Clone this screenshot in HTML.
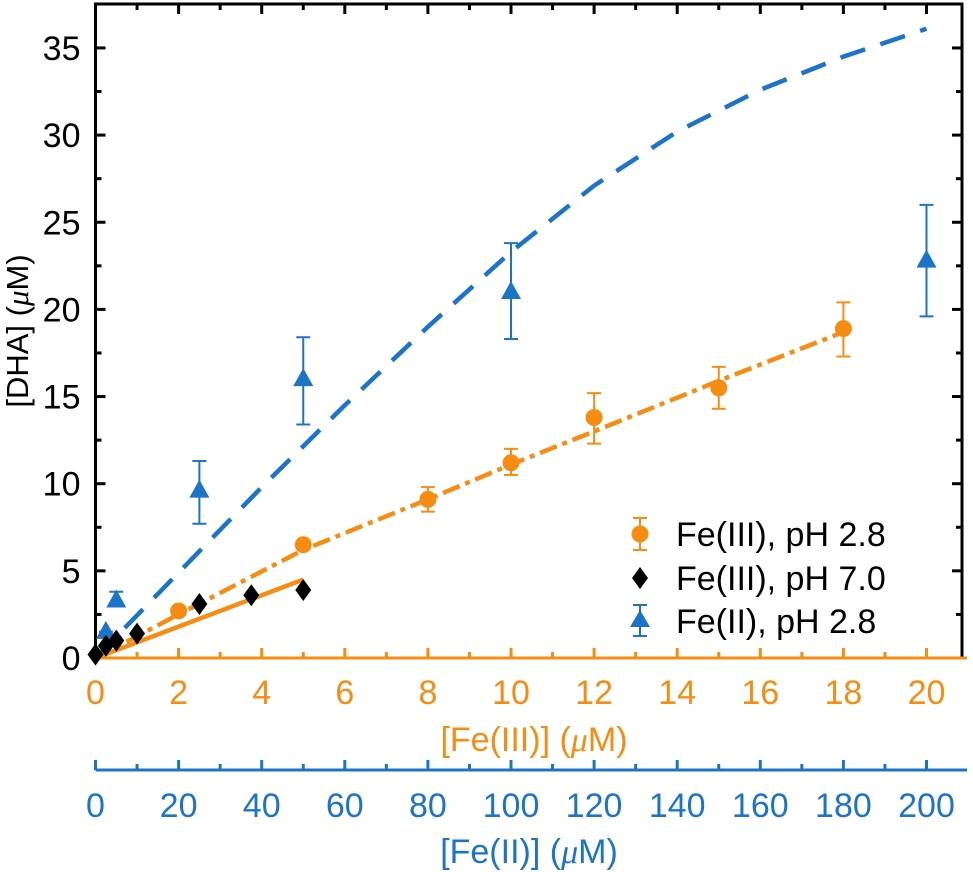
<!DOCTYPE html>
<html><head><meta charset="utf-8"><style>
body{margin:0;background:#fff;}
svg{display:block;font-family:"Liberation Sans",Arial,sans-serif;}
</style></head><body>
<svg id="chart" width="973" height="872"></svg>
<script>
const yTicks=[0,5,10,15,20,25,30,35];
const x3Ticks=[0,2,4,6,8,10,12,14,16,18,20];
const x2Ticks=[0,20,40,60,80,100,120,140,160,180,200];
const fe3X=[2,5,8,10,12,15,18];
const fe3Y=[2.7,6.5,9.1,11.2,13.8,15.5,18.9];
const fe3Lo=[2.7,6.3,8.4,10.5,12.3,14.3,17.3];
const fe3Hi=[2.7,6.7,9.8,12.0,15.2,16.7,20.4];
const ph7X=[0,0.25,0.5,1,2.5,3.75,5];
const ph7Y=[0.2,0.7,1.0,1.4,3.1,3.6,3.9];
const fe2X=[2.5,5,25,50,100,200];
const fe2Y=[1.5,3.3,9.6,16,21,22.8];
const fe2Lo=[1.5,3.0,7.7,13.4,18.3,19.6];
const fe2Hi=[1.5,3.8,11.3,18.4,23.8,26];
const fitDashX=[0,20,40,60,80,100,120,140,160,180,200];
const fitDashY=[0,4.9,9.8,14.5,19,23.3,27.1,30.2,32.6,34.5,36.1];
const fitDotX=[0,2,5,8,10,12,15,18];
const fitDotY=[0,2.5,6.2,9.1,11.1,13.0,15.9,18.7];
const fitSolidX=[0,5];const fitSolidY=[0,4.5];

const NS='http://www.w3.org/2000/svg';
const svg=document.getElementById('chart');
const X0=95.5,XS=41.55,Y0=658,YS=17.43,RIGHT=962,TOP=4;
const ORANGE='#f78c12',BLUE='#1c74c9';
const FS=34;
const sx=v=>X0+v*XS, sx2=v=>X0+v/10*XS, sy=v=>Y0-v*YS;
function el(t,a,p){const e=document.createElementNS(NS,t);for(const k in a)e.setAttribute(k,a[k]);(p||svg).appendChild(e);return e;}
function txt(s,x,y,a,p){const e=el('text',Object.assign({x:x,y:y},a),p);e.textContent=s;return e;}
const MU='<tspan font-family="Liberation Serif" font-style="italic">μ</tspan>';

let f=el('path',{d:`M${X0},${Y0}V${TOP}H${RIGHT}V${Y0}`,fill:'none',stroke:'#000','stroke-width':3});

for(let v=0;v<=35;v+=2.5){const L=v%5===0?10:6;
 el('line',{x1:X0,x2:X0+L,y1:sy(v),y2:sy(v),stroke:'#000','stroke-width':3});
 el('line',{x1:RIGHT,x2:RIGHT-L,y1:sy(v),y2:sy(v),stroke:'#000','stroke-width':3});}
yTicks.forEach(v=>{const t=txt(v,X0-15,sy(v)+12,{'font-size':FS,'text-anchor':'end',fill:'#000'});
 });
for(let v=1;v<=20;v++){const L=v%2===0?10:6;el('line',{x1:sx(v),x2:sx(v),y1:TOP,y2:TOP+L,stroke:'#000','stroke-width':3});}
let yt=txt('',28,331,{'font-size':31,'text-anchor':'middle',transform:'rotate(-90 28 331)',fill:'#000'});
yt.innerHTML='[DHA] ('+MU+'M)';


el('line',{x1:X0,x2:967,y1:Y0,y2:Y0,stroke:ORANGE,'stroke-width':3});
for(let v=1;v<=20;v++){const L=v%2===0?10:6;el('line',{x1:sx(v),x2:sx(v),y1:Y0,y2:Y0-L,stroke:ORANGE,'stroke-width':3});}
x3Ticks.forEach(v=>{const t=txt(v,sx(v),704,{'font-size':FS,'text-anchor':'middle',fill:ORANGE});
 });
let xt=txt('',534,751,{'font-size':34,'text-anchor':'middle',fill:ORANGE});
xt.innerHTML='[Fe(III)] ('+MU+'M)';

const BY=770;
el('line',{x1:X0,x2:967,y1:BY,y2:BY,stroke:BLUE,'stroke-width':3});
el('line',{x1:X0,x2:X0,y1:BY,y2:BY-10,stroke:BLUE,'stroke-width':3});
for(let v=10;v<=200;v+=10){const L=v%20===0?10:6;el('line',{x1:sx2(v),x2:sx2(v),y1:BY,y2:BY-L,stroke:BLUE,'stroke-width':3});}
x2Ticks.forEach(v=>{const t=txt(v,sx2(v),817,{'font-size':FS,'text-anchor':'middle',fill:BLUE});
 });
let xt2=txt('',529,863,{'font-size':34,'text-anchor':'middle',fill:BLUE});
xt2.innerHTML='[Fe(II)] ('+MU+'M)';


function poly(xs,ys,fx,color,dash,name){const d=xs.map((x,i)=>(i?'L':'M')+fx(x)+','+sy(ys[i])).join('');
 const p=el('path',{d:d,fill:'none',stroke:color,'stroke-width':4.5,'stroke-dasharray':dash});
 }
poly(fitDashX,fitDashY,sx2,BLUE,'26,16','fe2-fit-line');
poly(fitDotX,fitDotY,sx,ORANGE,'18,6,5,6','fe3-ph28-fit-line');
poly(fitSolidX,fitSolidY,sx,ORANGE,'','fe3-ph7-fit-line');

function errbar(x,lo,hi,color){el('path',{d:`M${x},${sy(lo)}V${sy(hi)}M${x-7},${sy(lo)}h14M${x-7},${sy(hi)}h14`,stroke:color,'stroke-width':2,fill:'none'});}
function tri(x,y,color){return el('path',{d:`M${x},${y-11}L${x+10},${y+7}L${x-10},${y+7}Z`,fill:color});}
function dia(x,y){return el('path',{d:`M${x},${y-11}L${x+8},${y}L${x},${y+11}L${x-8},${y}Z`,fill:'#000'});}
fe3X.forEach((x,i)=>{errbar(sx(x),fe3Lo[i],fe3Hi[i],ORANGE);
 const c=el('circle',{cx:sx(x),cy:sy(fe3Y[i]),r:8.5,fill:ORANGE});
 });
fe2X.forEach((x,i)=>{errbar(sx2(x),fe2Lo[i],fe2Hi[i],BLUE);
 const t=tri(sx2(x),sy(fe2Y[i]),BLUE);
 });
ph7X.forEach((x,i)=>{const d=dia(sx(x),sy(ph7Y[i]));
 });

const lg=el('g',{});

const LX=640;
el('path',{d:`M${LX},518V550M${LX-7},518h14M${LX-7},550h14`,stroke:ORANGE,'stroke-width':2},lg);
el('circle',{cx:LX,cy:534,r:8.5,fill:ORANGE},lg);
el('path',{d:`M${LX},567L${LX+8},578L${LX},589L${LX-8},578Z`,fill:'#000'},lg);
el('path',{d:`M${LX},605V636M${LX-7},605h14M${LX-7},636h14`,stroke:BLUE,'stroke-width':2},lg);
el('path',{d:`M${LX},610L${LX+10},627L${LX-10},627Z`,fill:BLUE},lg);
[['Fe(III), pH 2.8',546],['Fe(III), pH 7.0',590],['Fe(II), pH 2.8',633]].forEach(([s,y])=>{
 const t=txt(s,676,y,{'font-size':FS,fill:'#000'},lg);
 });
</script>
</body></html>
